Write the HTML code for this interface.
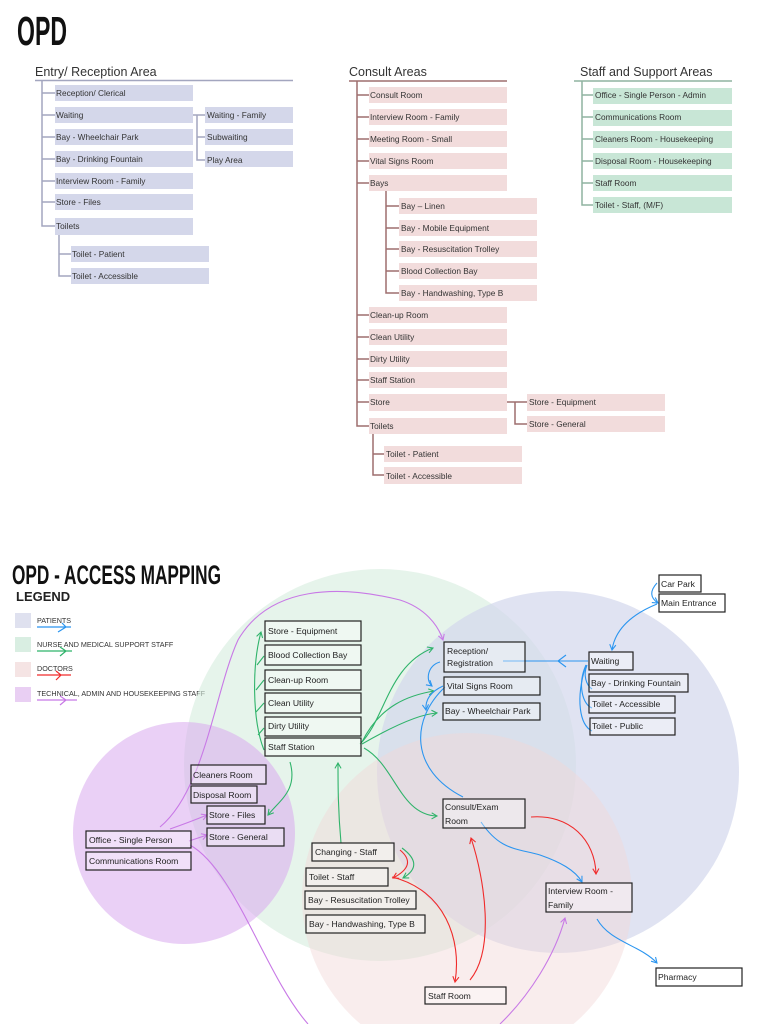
<!DOCTYPE html>
<html><head><meta charset="utf-8"><style>
html,body{margin:0;padding:0;background:#fff;}
svg{display:block;}
text{font-family:"Liberation Sans",sans-serif;}
.t{font-size:8.3px;fill:#333;}
.m{font-size:8.6px;fill:#222;}
.h{font-size:12.5px;fill:#333;}
.big{font-family:"Liberation Sans Narrow","Liberation Sans",sans-serif;font-weight:bold;fill:#111;}
</style></head><body>
<svg width="768" height="1024" viewBox="0 0 768 1024" xmlns="http://www.w3.org/2000/svg">
<defs>
<marker id="ab" viewBox="0 0 10 10" refX="8" refY="5" markerWidth="7" markerHeight="7" orient="auto"><path d="M1,1 L8,5 L1,9" fill="none" stroke="#2a95f0" stroke-width="1.4"/></marker>
<marker id="ag" viewBox="0 0 10 10" refX="8" refY="5" markerWidth="7" markerHeight="7" orient="auto"><path d="M1,1 L8,5 L1,9" fill="none" stroke="#2fb36a" stroke-width="1.4"/></marker>
<marker id="ar" viewBox="0 0 10 10" refX="8" refY="5" markerWidth="7" markerHeight="7" orient="auto"><path d="M1,1 L8,5 L1,9" fill="none" stroke="#f02a2a" stroke-width="1.4"/></marker>
<marker id="ap" viewBox="0 0 10 10" refX="8" refY="5" markerWidth="7" markerHeight="7" orient="auto"><path d="M1,1 L8,5 L1,9" fill="none" stroke="#c879e6" stroke-width="1.4"/></marker>
</defs>

<!-- TOP TITLE -->
<text x="17" y="45" class="big" font-size="41" textLength="50" lengthAdjust="spacingAndGlyphs">OPD</text>

<!-- ENTRY TREE -->
<text x="35" y="76" class="h">Entry/ Reception Area</text>
<g stroke="#a3a6bf" stroke-width="1.5" fill="none">
<line x1="35" y1="80.5" x2="293" y2="80.5"/>
<path d="M42,81 V226 H55"/>
<path d="M42,93 H55 M42,115 H55 M42,137 H55 M42,159 H55 M42,181 H55 M42,202 H55"/>
<path d="M193,115 H205 M197,115 V160 H205 M197,137 H205"/>
<path d="M59,235 V276 H71 M59,254 H71"/>
</g>
<g fill="#d4d7ea">
<rect x="55" y="85" width="138" height="16"/><rect x="55" y="107" width="138" height="16"/>
<rect x="55" y="129" width="138" height="16"/><rect x="55" y="151" width="138" height="16"/>
<rect x="55" y="173" width="138" height="16"/><rect x="55" y="194" width="138" height="16"/>
<rect x="55" y="218" width="138" height="17"/>
<rect x="205" y="107" width="88" height="16"/><rect x="205" y="129" width="88" height="16"/><rect x="205" y="151" width="88" height="16"/>
<rect x="71" y="246" width="138" height="16"/><rect x="71" y="268" width="138" height="16"/>
</g>
<g class="t">
<text x="56" y="96">Reception/ Clerical</text><text x="56" y="118">Waiting</text>
<text x="56" y="140">Bay - Wheelchair Park</text><text x="56" y="162">Bay - Drinking Fountain</text>
<text x="56" y="184">Interview Room - Family</text><text x="56" y="205">Store - Files</text>
<text x="56" y="229">Toilets</text>
<text x="207" y="118">Waiting - Family</text><text x="207" y="140">Subwaiting</text><text x="207" y="163">Play Area</text>
<text x="72" y="257">Toilet - Patient</text><text x="72" y="279">Toilet - Accessible</text>
</g>

<!-- CONSULT TREE -->
<text x="349" y="76" class="h">Consult Areas</text>
<g stroke="#9e6e6e" stroke-width="1.5" fill="none">
<line x1="349" y1="81" x2="507" y2="81"/>
<path d="M357,81 V426 H369"/>
<path d="M357,95 H369 M357,117 H369 M357,139 H369 M357,161 H369 M357,183 H369 M357,315 H369 M357,337 H369 M357,359 H369 M357,380 H369 M357,402 H369"/>
<path d="M386,191 V293 H399 M386,206 H399 M386,228 H399 M386,249 H399 M386,271 H399"/>
<path d="M507,402 H527 M515,402 V424 H527"/>
<path d="M373,434 V475 H384 M373,454 H384"/>
</g>
<g fill="#f2dcdc">
<rect x="369" y="87" width="138" height="16"/><rect x="369" y="109" width="138" height="16"/>
<rect x="369" y="131" width="138" height="16"/><rect x="369" y="153" width="138" height="16"/>
<rect x="369" y="175" width="138" height="16"/>
<rect x="399" y="198" width="138" height="16"/><rect x="399" y="220" width="138" height="16"/>
<rect x="399" y="241" width="138" height="16"/><rect x="399" y="263" width="138" height="16"/>
<rect x="399" y="285" width="138" height="16"/>
<rect x="369" y="307" width="138" height="16"/><rect x="369" y="329" width="138" height="16"/>
<rect x="369" y="351" width="138" height="16"/><rect x="369" y="372" width="138" height="16"/>
<rect x="369" y="394" width="138" height="17"/><rect x="369" y="418" width="138" height="16"/>
<rect x="527" y="394" width="138" height="17"/><rect x="527" y="416" width="138" height="16"/>
<rect x="384" y="446" width="138" height="16"/><rect x="384" y="467" width="138" height="17"/>
</g>
<g class="t">
<text x="370" y="98">Consult Room</text><text x="370" y="120">Interview Room - Family</text>
<text x="370" y="142">Meeting Room - Small</text><text x="370" y="164">Vital Signs Room</text>
<text x="370" y="186">Bays</text>
<text x="401" y="209">Bay – Linen</text><text x="401" y="231">Bay - Mobile Equipment</text>
<text x="401" y="252">Bay - Resuscitation Trolley</text><text x="401" y="274">Blood Collection Bay</text>
<text x="401" y="296">Bay - Handwashing, Type B</text>
<text x="370" y="318">Clean-up Room</text><text x="370" y="340">Clean Utility</text>
<text x="370" y="362">Dirty Utility</text><text x="370" y="383">Staff Station</text>
<text x="370" y="405">Store</text><text x="370" y="429">Toilets</text>
<text x="529" y="405">Store - Equipment</text><text x="529" y="427">Store - General</text>
<text x="386" y="457">Toilet - Patient</text><text x="386" y="479">Toilet - Accessible</text>
</g>

<!-- STAFF TREE -->
<text x="580" y="76" class="h">Staff and Support Areas</text>
<g stroke="#8fb3a0" stroke-width="1.5" fill="none">
<line x1="574" y1="81" x2="732" y2="81"/>
<path d="M582,81 V205 H593 M582,95 H593 M582,117 H593 M582,139 H593 M582,161 H593 M582,183 H593"/>
</g>
<g fill="#c8e6d6">
<rect x="593" y="88" width="139" height="16"/><rect x="593" y="110" width="139" height="16"/>
<rect x="593" y="131" width="139" height="17"/><rect x="593" y="153" width="139" height="16"/>
<rect x="593" y="175" width="139" height="16"/><rect x="593" y="197" width="139" height="16"/>
</g>
<g class="t">
<text x="595" y="98">Office - Single Person - Admin</text><text x="595" y="120">Communications Room</text>
<text x="595" y="142">Cleaners Room - Housekeeping</text><text x="595" y="164">Disposal Room - Housekeeping</text>
<text x="595" y="186">Staff Room</text><text x="595" y="208">Toilet - Staff, (M/F)</text>
</g>

<!-- ACCESS MAPPING -->
<text x="12" y="584" class="big" font-size="27" textLength="209" lengthAdjust="spacingAndGlyphs">OPD - ACCESS MAPPING</text>
<text x="16" y="601" font-size="13" font-weight="bold" fill="#222">LEGEND</text>
<rect x="15" y="613" width="16" height="15" fill="#dfe1ef"/>
<rect x="15" y="637" width="16" height="15" fill="#d9eee2"/>
<rect x="15" y="662" width="16" height="15" fill="#f5e4e4"/>
<rect x="15" y="687" width="16" height="15" fill="#e9cff3"/>
<g font-size="7.2" fill="#333">
<text x="37" y="623">PATIENTS</text>
<text x="37" y="647">NURSE AND MEDICAL SUPPORT STAFF</text>
<text x="37" y="671">DOCTORS</text>
<text x="37" y="696">TECHNICAL, ADMIN AND HOUSEKEEPING STAFF</text>
</g>
<g fill="none" stroke-width="1.2">
<path d="M37,627 H71 M62,623 L66,627 L58,632" stroke="#2a95f0"/>
<path d="M37,651 H72 M60,647 L66,651 L60,656" stroke="#2fb36a"/>
<path d="M37,675 H71 M56,671 L61,675 L56,680" stroke="#f02a2a"/>
<path d="M37,700 H77 M60,696 L66,700 L60,705" stroke="#c879e6"/>
</g>

<!-- circles -->
<circle cx="380" cy="765" r="196" fill="#d5ecdd" opacity="0.6"/>
<circle cx="184" cy="833" r="111" fill="#d9a9ee" opacity="0.55"/>
<circle cx="558" cy="772" r="181" fill="#d3d7ec" opacity="0.7"/>
<circle cx="467" cy="898" r="165" fill="#f1d6d6" opacity="0.45"/>

<!-- connectors -->
<g fill="none" stroke-width="1.1">
<!-- purple -->
<g stroke="#c879e6">
<path d="M160,827 C205,790 215,690 238,640 C270,585 340,585 400,600 C425,608 438,625 443,640" marker-end="url(#ap)"/>
<path d="M170,829 Q190,822 207,815" marker-end="url(#ap)"/>
<path d="M189,841 L207,835" marker-end="url(#ap)"/>
<path d="M190,845 C235,870 265,975 308,1024"/>
<path d="M500,1024 C530,995 555,955 565,918" marker-end="url(#ap)"/>
</g>
<!-- green -->
<g stroke="#2fb36a">
<path d="M264,750 C252,720 252,665 261,632" marker-end="url(#ag)"/>
<path d="M257,665 L264,656 M256,690 L264,680 M256,712 L264,703 M258,735 L264,728"/>
<path d="M290,762 C298,790 280,800 268,815" marker-end="url(#ag)"/>
<path d="M341,843 C338,810 338,785 338,763" marker-end="url(#ag)"/>
<path d="M360,744 C385,720 388,665 433,648" marker-end="url(#ag)"/>
<path d="M362,742 C380,705 410,695 434,691" marker-end="url(#ag)"/>
<path d="M362,744 C395,725 420,714 437,713" marker-end="url(#ag)"/>
<path d="M364,748 C395,765 400,815 437,816" marker-end="url(#ag)"/>
<path d="M402,848 Q425,865 403,878" marker-end="url(#ag)"/>
</g>
<!-- blue -->
<g stroke="#2a95f0">
<path d="M657,583 Q646,595 658,603" marker-end="url(#ab)"/>
<path d="M657,604 C630,615 615,630 612,650" marker-end="url(#ab)"/>
<path d="M588,661 L503,661"/>
<path d="M566,655 L558,661 L566,667"/>
<path d="M587,665 C583,675 586,685 592,689"/>
<path d="M586,665 C577,685 583,705 592,708"/>
<path d="M586,665 C575,700 580,725 592,731"/>
<path d="M440,662 C428,665 425,680 432,686" marker-end="url(#ab)"/>
<path d="M443,686 C430,692 425,700 426,710" marker-end="url(#ab)"/>
<path d="M445,687 C410,720 410,770 463,797"/>
<path d="M481,822 C500,850 515,848 540,855 C560,862 575,870 582,882" marker-end="url(#ab)"/>
<path d="M597,919 C610,942 640,945 657,963" marker-end="url(#ab)"/>
</g>
<!-- red -->
<g stroke="#f02a2a">
<path d="M531,817 C570,814 595,840 596,874" marker-end="url(#ar)"/>
<path d="M392,877 C445,890 462,940 455,982" marker-end="url(#ar)"/>
<path d="M470,980 C495,950 485,880 471,838" marker-end="url(#ar)"/>
<path d="M400,850 Q418,865 393,878" marker-end="url(#ar)"/>
</g>
</g>

<!-- boxes -->
<g fill="#ffffff" fill-opacity="0.35" stroke="#222" stroke-width="1.2">
<rect x="265" y="621" width="96" height="20"/><rect x="265" y="645" width="96" height="20"/>
<rect x="265" y="670" width="96" height="20"/><rect x="265" y="693" width="96" height="20"/>
<rect x="265" y="717" width="96" height="19"/><rect x="265" y="738" width="96" height="18"/>
<rect x="191" y="765" width="75" height="19"/><rect x="191" y="786" width="66" height="17"/>
<rect x="207" y="806" width="58" height="18"/><rect x="207" y="828" width="77" height="18"/>
<rect x="86" y="831" width="105" height="17"/><rect x="86" y="852" width="105" height="18"/>
<rect x="312" y="843" width="82" height="18"/><rect x="306" y="868" width="82" height="18"/>
<rect x="305" y="891" width="111" height="18"/><rect x="306" y="915" width="119" height="18"/>
<rect x="444" y="642" width="81" height="30"/><rect x="444" y="677" width="96" height="18"/>
<rect x="443" y="703" width="97" height="17"/>
<rect x="589" y="652" width="44" height="18"/><rect x="589" y="674" width="99" height="18"/>
<rect x="589" y="696" width="86" height="17"/><rect x="590" y="718" width="85" height="17"/>
<rect x="659" y="575" width="42" height="17"/><rect x="659" y="594" width="66" height="18"/>
<rect x="443" y="799" width="82" height="29"/><rect x="546" y="883" width="86" height="29"/>
<rect x="656" y="968" width="86" height="18"/><rect x="425" y="987" width="81" height="17"/>
</g>
<g class="m">
<text x="268" y="634">Store - Equipment</text><text x="268" y="658">Blood Collection Bay</text>
<text x="268" y="683">Clean-up Room</text><text x="268" y="706">Clean Utility</text>
<text x="268" y="729">Dirty Utility</text><text x="268" y="750">Staff Station</text>
<text x="193" y="778">Cleaners Room</text><text x="193" y="798">Disposal Room</text>
<text x="209" y="818">Store - Files</text><text x="209" y="840">Store - General</text>
<text x="89" y="843">Office - Single Person</text><text x="89" y="864">Communications Room</text>
<text x="315" y="855">Changing - Staff</text><text x="309" y="880">Toilet - Staff</text>
<text x="308" y="903">Bay - Resuscitation Trolley</text><text x="309" y="927">Bay - Handwashing, Type B</text>
<text x="447" y="654">Reception/</text><text x="447" y="666">Registration</text>
<text x="447" y="689">Vital Signs Room</text><text x="445" y="714">Bay - Wheelchair Park</text>
<text x="591" y="664">Waiting</text><text x="591" y="686">Bay - Drinking Fountain</text>
<text x="592" y="707">Toilet - Accessible</text><text x="592" y="729">Toilet - Public</text>
<text x="661" y="587">Car Park</text><text x="661" y="606">Main Entrance</text>
<text x="445" y="810">Consult/Exam</text><text x="445" y="824">Room</text>
<text x="548" y="894">Interview Room -</text><text x="548" y="908">Family</text>
<text x="658" y="980">Pharmacy</text><text x="428" y="999">Staff Room</text>
</g>
</svg>
</body></html>
